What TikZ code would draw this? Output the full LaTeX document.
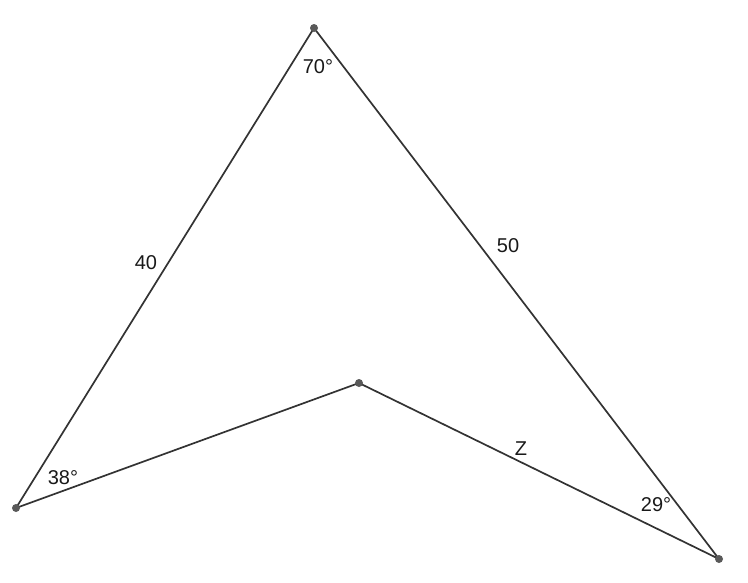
\documentclass[tikz,border=0pt]{standalone}
\usepackage{fontspec}
\setmainfont{Liberation Sans}
\begin{document}
\begin{tikzpicture}[x=1pt,y=-1pt,
  edge/.style={draw=black!80,line width=1.7pt},
  pt/.style={circle,fill=black!65,inner sep=0pt,minimum size=8pt},
  lbl/.style={font=\fontsize{20}{20}\selectfont,text=black!90}]
\useasboundingbox (0,0) rectangle (748,582);
\coordinate (T) at (314,28);
\coordinate (L) at (16,508);
\coordinate (M) at (359,383);
\coordinate (R) at (719,559);
\draw[edge,line join=round] (T) -- (L) -- (M) -- (R) -- cycle;
\node[pt] (pT) at (T) {};
\node[pt] (pL) at (L) {};
\node[pt] (pM) at (M) {};
\node[pt] (pR) at (R) {};
\node[lbl] (a70) at (318,67) {70°};
\node[lbl] (s40) at (146,263) {40};
\node[lbl] (s50) at (508,246) {50};
\node[lbl] (a38) at (63,478) {38°};
\node[lbl] (sZ) at (521,449) {Z};
\node[lbl] (a29) at (656,505) {29°};
\end{tikzpicture}
\end{document}
